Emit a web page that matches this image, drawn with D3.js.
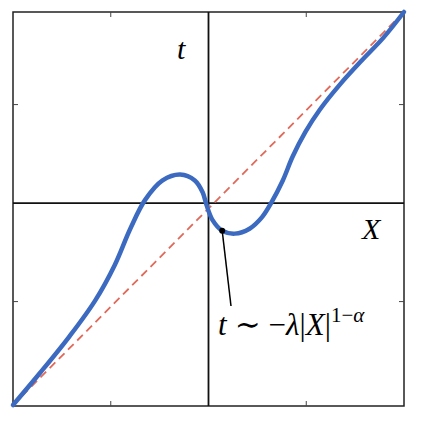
<!DOCTYPE html><html><head><meta charset="utf-8"><script src="https://cdn.jsdelivr.net/npm/d3@7"></script>
<style>body{margin:0;background:#fff}text{font-family:"Liberation Serif","DejaVu Serif",serif;font-style:italic}</style></head><body>
<script>
const curveX=[-2.00,-1.72,-1.42,-1.16,-0.96,-0.80,-0.65,-0.47,-0.29,-0.14,-0.06,-0.02,0.04,0.14,0.27,0.42,0.55,0.64,0.76,0.86,0.99,1.14,1.35,1.57,1.79,2.00];
const curveY=[-2.05,-1.72,-1.35,-0.99,-0.63,-0.26,0.03,0.23,0.29,0.23,0.11,-0.02,-0.17,-0.28,-0.31,-0.26,-0.14,0,0.23,0.47,0.72,0.95,1.21,1.45,1.68,1.94];
const diagX=[-2,2], diagY=[-2.05,1.94];
const ticks=[-1,1];
const dot=[0.14,-0.28];
const W=424,H=427;
const svg=d3.select("body").append("svg").attr("width",W).attr("height",H);
const x=d3.scaleLinear().domain([-2,2]).range([13,404]);
const y=d3.scaleLinear().domain([-2.06,1.94]).range([406,12]);
const g=svg.append("g");
g.append("rect").attr("x",13).attr("y",12).attr("width",391).attr("height",394).attr("fill","none").attr("stroke","#222").attr("stroke-width",1.5);
ticks.forEach(t=>{
 g.append("line").attr("x1",x(t)).attr("x2",x(t)).attr("y1",406).attr("y2",401).attr("stroke","#444");
 g.append("line").attr("x1",x(t)).attr("x2",x(t)).attr("y1",12).attr("y2",17).attr("stroke","#444");
 g.append("line").attr("y1",y(t)).attr("y2",y(t)).attr("x1",13).attr("x2",18).attr("stroke","#444");
 g.append("line").attr("y1",y(t)).attr("y2",y(t)).attr("x1",404).attr("x2",399).attr("stroke","#444");
});
g.append("line").attr("x1",13).attr("x2",404).attr("y1",y(0)).attr("y2",y(0)).attr("stroke","#111").attr("stroke-width",1.8);
g.append("line").attr("x1",x(0)).attr("x2",x(0)).attr("y1",12).attr("y2",406).attr("stroke","#111").attr("stroke-width",1.8);
g.append("path").attr("d",d3.line()(diagX.map((d,i)=>[x(d),y(diagY[i])]))).attr("stroke","#e0695a").attr("stroke-width",1.8).attr("stroke-dasharray","8,5").attr("fill","none");
g.append("path").attr("d",d3.line().curve(d3.curveCatmullRom)(curveX.map((d,i)=>[x(d),y(curveY[i])]))).attr("stroke","#3b6ac0").attr("stroke-width",4.5).attr("fill","none").attr("stroke-linecap","round");
g.append("line").attr("x1",x(dot[0])).attr("y1",y(dot[1])).attr("x2",231).attr("y2",306).attr("stroke","#000").attr("stroke-width",1.5);
g.append("circle").attr("cx",x(dot[0])).attr("cy",y(dot[1])).attr("r",3).attr("fill","#000");
g.append("text").attr("x",177).attr("y",59).attr("font-size",30).text("t");
g.append("text").attr("x",362).attr("y",239).attr("font-size",30).text("X");
const ann=g.append("text").attr("x",218).attr("y",335).attr("font-size",31);
ann.append("tspan").text("t");
ann.append("tspan").attr("font-style","normal").attr("dx",8).text("∼");
ann.append("tspan").attr("font-style","normal").attr("dx",8).text("−");
ann.append("tspan").text("λ");
ann.append("tspan").attr("font-style","normal").text("|");
ann.append("tspan").text("X");
ann.append("tspan").attr("font-style","normal").text("|");
const sup=ann.append("tspan").attr("dy",-13).attr("font-size",21);
sup.append("tspan").attr("font-style","normal").text("1−");
sup.append("tspan").text("α");
</script></body></html>
